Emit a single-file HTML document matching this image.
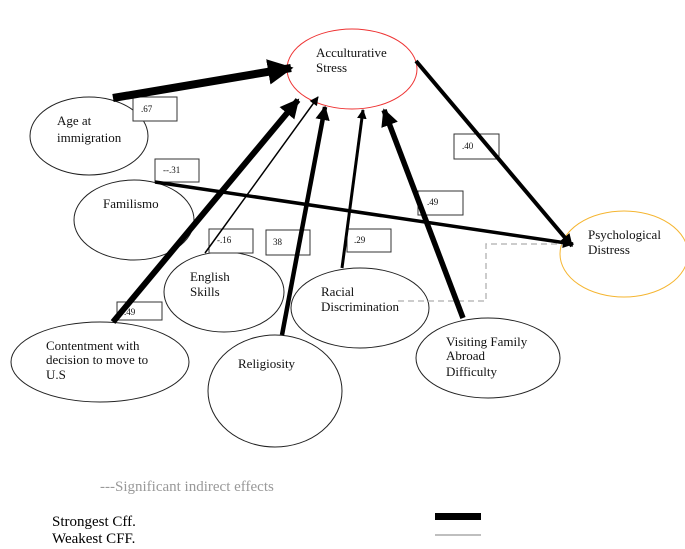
<!DOCTYPE html>
<html><head><meta charset="utf-8"><style>
html,body{margin:0;padding:0;background:#fff;}
svg{display:block;font-family:"Liberation Serif",serif;}
</style></head><body>
<svg width="685" height="549" viewBox="0 0 685 549" xmlns="http://www.w3.org/2000/svg">
<defs>
<marker id="ah" viewBox="0 0 10 10" refX="9" refY="5" markerWidth="3.2" markerHeight="3.2" orient="auto" markerUnits="strokeWidth"><path d="M0,0L10,5L0,10z" fill="#000"/></marker>
<marker id="ah2" viewBox="0 0 10 10" refX="9" refY="5" markerWidth="6" markerHeight="6" orient="auto" markerUnits="strokeWidth"><path d="M0,0L10,5L0,10z" fill="#000"/></marker>
</defs>
<g fill="none" stroke="#222" stroke-width="1">
<ellipse cx="352" cy="69" rx="65" ry="40" stroke="#e33"/>
<ellipse cx="89" cy="136" rx="59" ry="39"/>
<ellipse cx="134" cy="220" rx="60" ry="40"/>
<ellipse cx="224" cy="292" rx="60" ry="40"/>
<ellipse cx="360" cy="308" rx="69" ry="40"/>
<ellipse cx="100" cy="362" rx="89" ry="40"/>
<ellipse cx="275" cy="391" rx="67" ry="56"/>
<ellipse cx="488" cy="358" rx="72" ry="40"/>
<ellipse cx="624" cy="254" rx="64" ry="43" stroke="#f5b530"/>
</g>
<g fill="#fff" stroke="#333" stroke-width="1">
<rect x="133" y="97" width="44" height="24"/>
<rect x="454" y="134" width="45" height="25"/>
<rect x="155" y="159" width="44" height="23"/>
<rect x="418" y="191" width="45" height="24"/>
<rect x="209" y="229" width="44" height="24"/>
<rect x="266" y="230" width="44" height="25"/>
<rect x="347" y="229" width="44" height="23"/>
<rect x="117" y="302" width="45" height="18"/>
</g>
<polyline points="398,301 486,301 486,244 570,244" fill="none" stroke="#bbb" stroke-width="1.5" stroke-dasharray="6,4"/>
<g stroke="#000" fill="none" stroke-linecap="butt">
<line x1="113" y1="98" x2="291" y2="68" stroke-width="8" marker-end="url(#ah)"/>
<line x1="416" y1="61" x2="572" y2="246" stroke-width="4" marker-end="url(#ah)"/>
<line x1="155" y1="182" x2="573" y2="244" stroke-width="3.5" marker-end="url(#ah)"/>
<line x1="113" y1="322" x2="298" y2="100" stroke-width="6" marker-end="url(#ah)"/>
<line x1="205" y1="253" x2="318" y2="97" stroke-width="1.5" marker-end="url(#ah2)"/>
<line x1="282" y1="335" x2="325" y2="107" stroke-width="4.5" marker-end="url(#ah)"/>
<line x1="342" y1="268" x2="363" y2="110" stroke-width="3" marker-end="url(#ah)"/>
<line x1="463" y1="318" x2="384" y2="110" stroke-width="5.5" marker-end="url(#ah)"/>
</g>
<g font-size="13" fill="#111">
<text x="316" y="57">Acculturative</text><text x="316" y="72">Stress</text>
<text x="57" y="125">Age at</text><text x="57" y="142">immigration</text>
<text x="103" y="208">Familismo</text>
<text x="190" y="281">English</text><text x="190" y="296">Skills</text>
<text x="321" y="296">Racial</text><text x="321" y="311">Discrimination</text>
<text x="46" y="350">Contentment with</text><text x="46" y="364">decision to move to</text><text x="46" y="379">U.S</text>
<text x="238" y="368">Religiosity</text>
<text x="446" y="346">Visiting Family</text><text x="446" y="360">Abroad</text><text x="446" y="376">Difficulty</text>
<text x="588" y="239">Psychological</text><text x="588" y="254">Distress</text>
</g>
<g font-size="9" fill="#111">
<text x="141" y="112">.67</text>
<text x="462" y="149">.40</text>
<text x="163" y="173">--.31</text>
<text x="427" y="205">.49</text>
<text x="217" y="243">-.16</text>
<text x="273" y="245">38</text>
<text x="354" y="243">.29</text>
<text x="124" y="315">.49</text>
</g>
<text x="100" y="491" font-size="15" fill="#999">---Significant indirect effects</text>
<text x="52" y="526" font-size="15" fill="#000">Strongest Cff.</text>
<text x="52" y="543" font-size="15" fill="#000">Weakest CFF.</text>
<rect x="435" y="513" width="46" height="7" fill="#000"/>
<line x1="435" y1="535" x2="481" y2="535" stroke="#999" stroke-width="1.2"/>
</svg>
</body></html>
